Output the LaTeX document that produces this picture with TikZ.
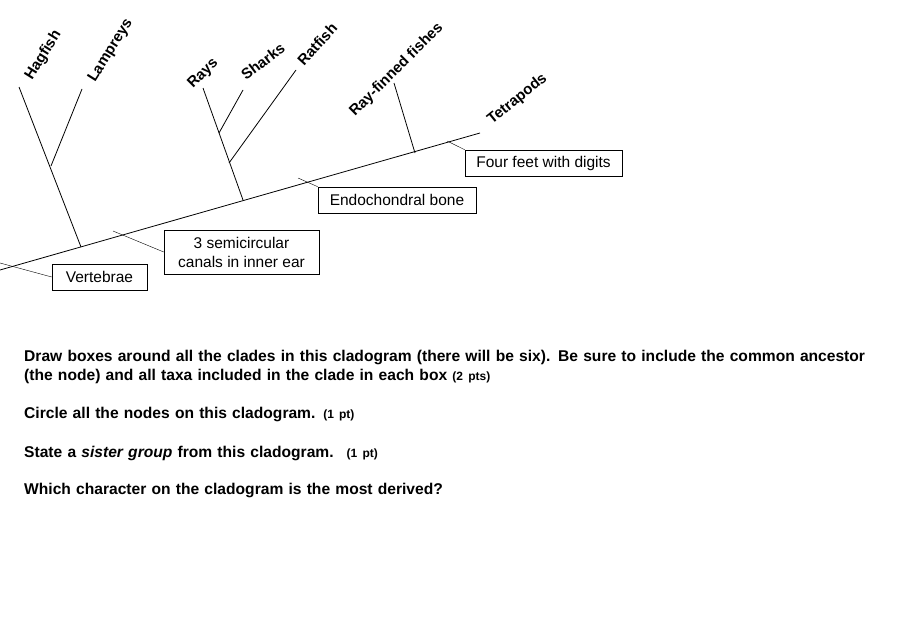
\documentclass[tikz,border=0pt]{standalone}
\usepackage{fontspec}
\setmainfont{Liberation Sans}
\begin{document}
\begin{tikzpicture}[x=1pt,y=-1pt,
  br/.style={line width=0.8pt},
  tx/.style={font=\bfseries\fontsize{15}{17}\selectfont, anchor=base west, inner sep=0pt},
  lbl/.style={draw, line width=0.6pt, font=\fontsize{15.5}{19}\selectfont, inner sep=3pt, align=center},
  q/.style={font=\bfseries\fontsize{15.6}{19}\selectfont, anchor=north west, inner sep=0pt, align=left, text width=890pt}]
\useasboundingbox (0,0) rectangle (921,618);
% main line
\coordinate (m0) at (0,270);
\coordinate (m1) at (480,133);
\draw[br] (m0) -- (m1);
% Hagfish/Lampreys
\coordinate (hb) at (81,247);
\coordinate (ht) at (19,87);
\coordinate (ln) at (51,166);
\coordinate (lt) at (82,89);
\draw[br] (hb) -- (ht);
\draw[br] (ln) -- (lt);
% Rays group
\coordinate (rb) at (243,200);
\coordinate (rt) at (203,88);
\coordinate (sn) at (219,133);
\coordinate (st) at (243,90);
\coordinate (rn) at (229,163);
\coordinate (rft) at (296,70);
\draw[br] (rb) -- (rt);
\draw[br] (sn) -- (st);
\draw[br] (rn) -- (rft);
% ray-finned
\coordinate (fb) at (415,153);
\coordinate (ft) at (394,83);
\draw[br] (fb) -- (ft);
% taxa
\node[tx, rotate=58] (hag) at (32,81) {Hagfish};
\node[tx, rotate=58] (lam) at (95,83) {Lampreys};
\node[tx, rotate=45] (ray) at (193,89) {Rays};
\node[tx, rotate=37] (sha) at (246,81) {Sharks};
\node[tx, rotate=48] (rat) at (304,67) {Ratfish};
\node[tx, rotate=45] (rff) at (355,117) {Ray-finned fishes};
\node[tx, rotate=39] (tet) at (492,125) {Tetrapods};
% character boxes
\node[lbl, minimum width=95pt, minimum height=26pt] (v) at (99.5,277) {Vertebrae};
\node[lbl, minimum width=155pt, minimum height=44pt] (s) at (241.5,252) {3 semicircular\\canals in inner ear};
\node[lbl, minimum width=158pt, minimum height=26pt] (e) at (397,200) {Endochondral bone};
\node[lbl, minimum width=157pt, minimum height=26pt] (f) at (543.5,163) {Four feet with digits};
\coordinate (vt) at (0,263);
\coordinate (st0) at (113,231);
\coordinate (et) at (298,178);
\coordinate (ft0) at (447,141);
\draw (vt) -- (v.west);
\draw (st0) -- (s.west);
\draw (et) -- (e.north west);
\draw (ft0) -- (f.north west);
% questions
\node[q] (q1) at (24,350) {Draw boxes around all the clades in this cladogram (there will be six). Be sure to include the common ancestor\\(the node) and all taxa included in the clade in each box {\fontsize{12}{14}\selectfont(2 pts)}};
\node[q] (q2) at (24,407) {Circle all the nodes on this cladogram. {\fontsize{12}{14}\selectfont(1 pt)}};
\node[q] (q3) at (24,446) {State a \textit{sister group} from this cladogram.~ {\fontsize{12}{14}\selectfont(1 pt)}};
\node[q] (q4) at (24,483) {Which character on the cladogram is the most derived?};
\end{tikzpicture}
\end{document}
